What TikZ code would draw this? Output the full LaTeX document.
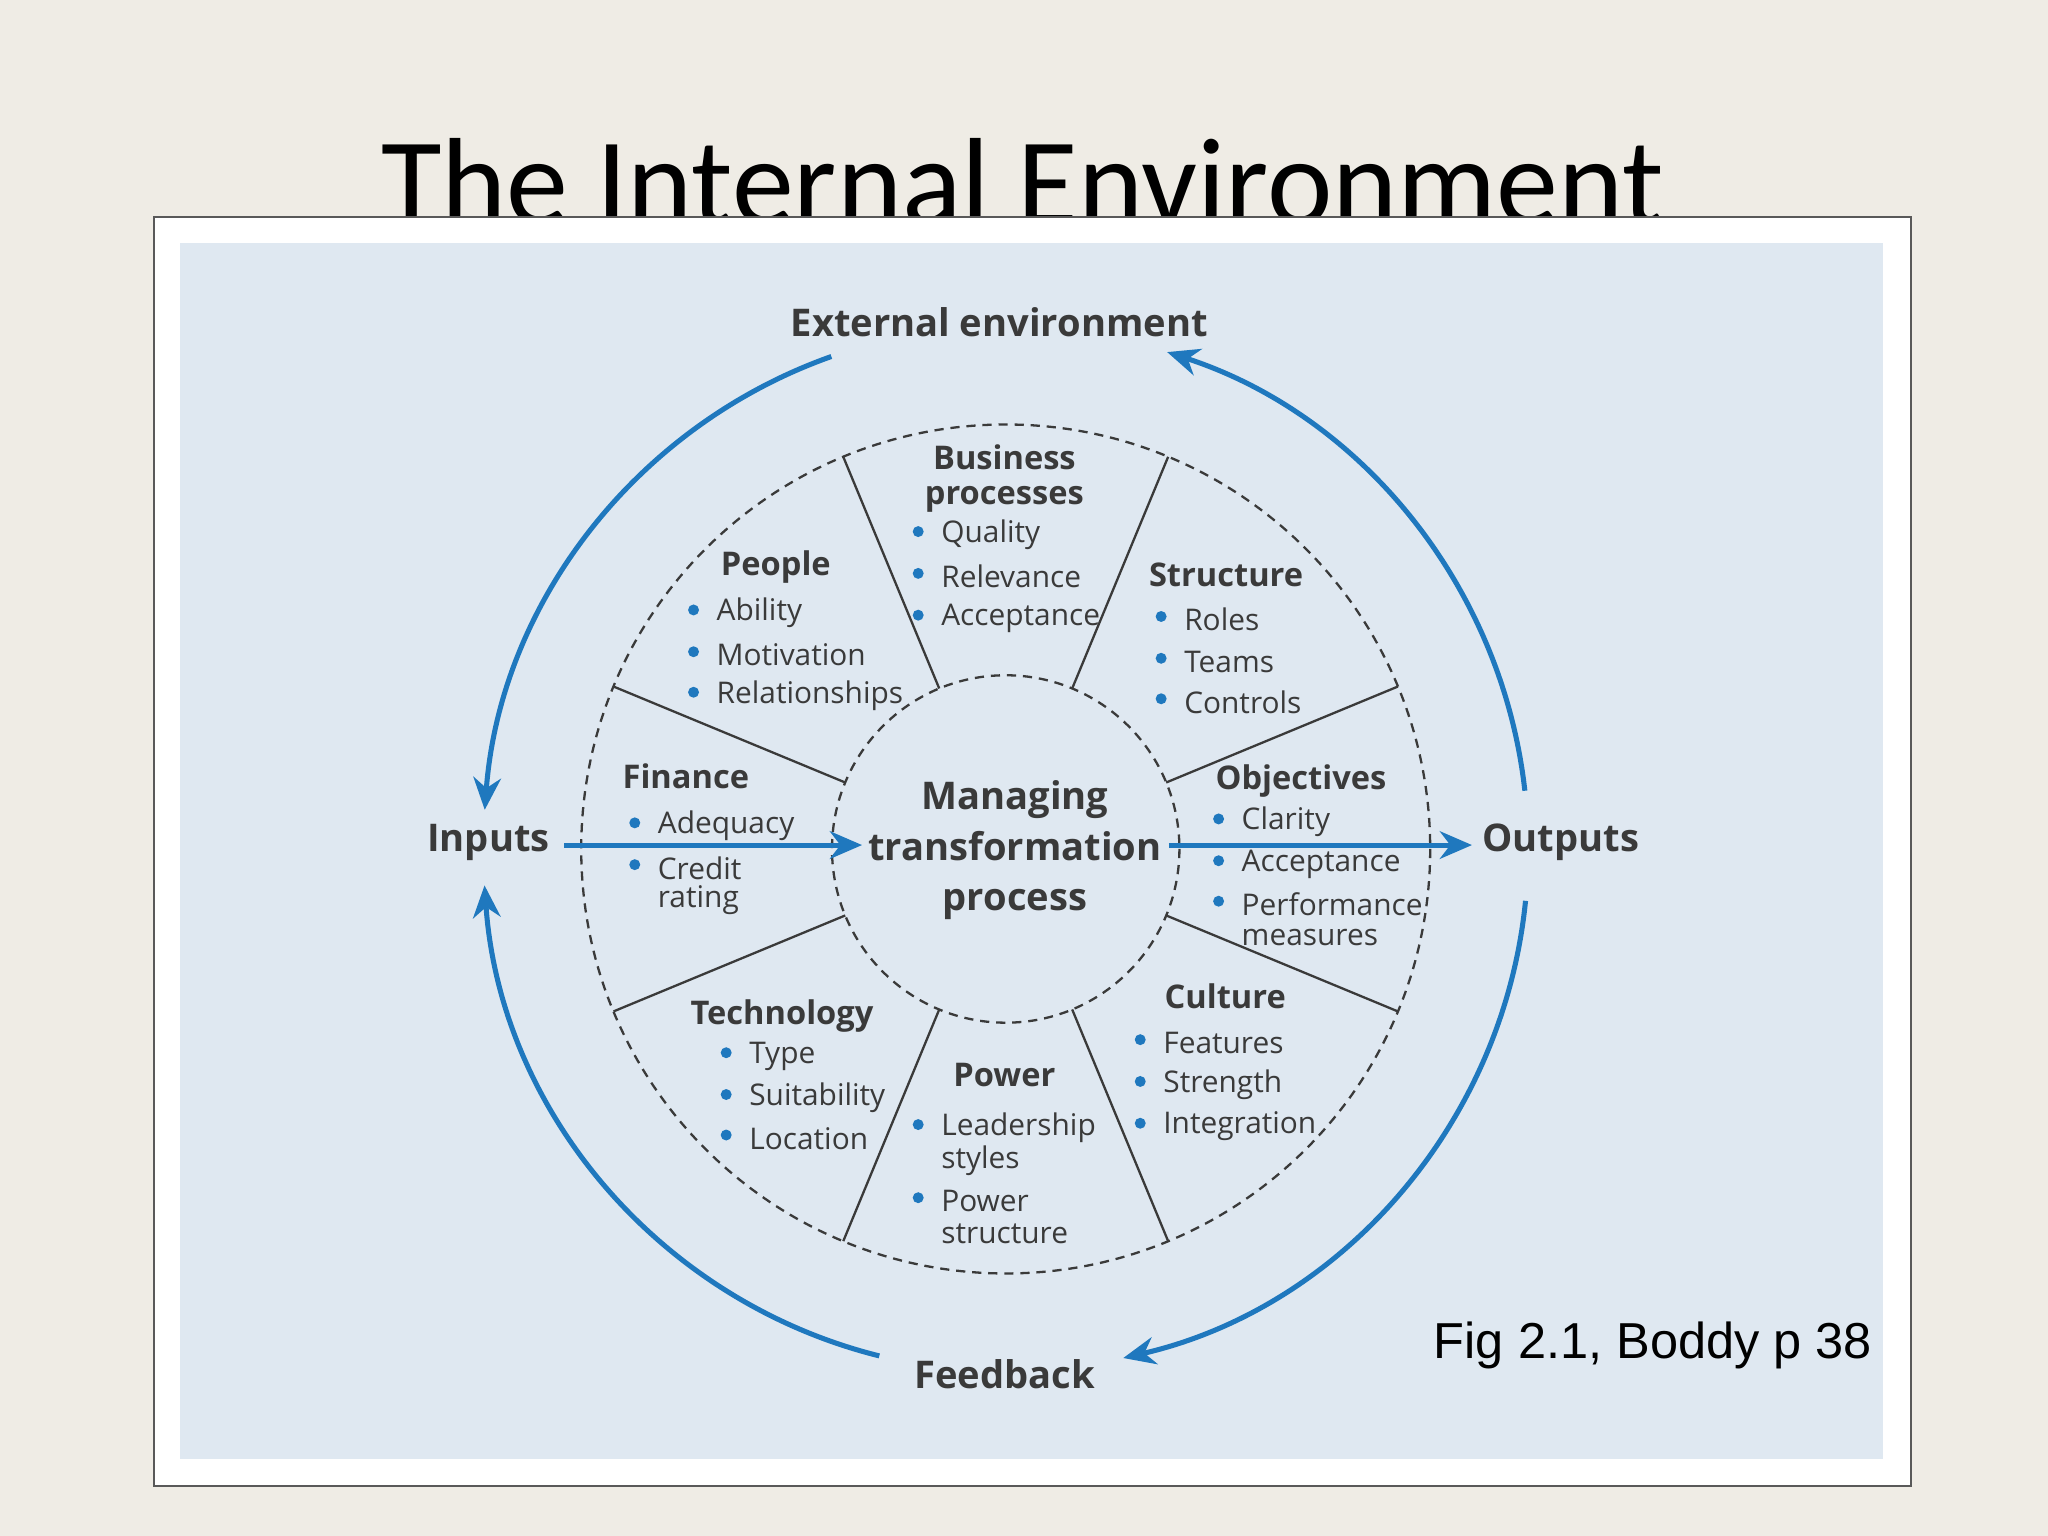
\documentclass[tikz,border=0pt]{standalone}
\usepackage{fontspec}
\setmainfont{Open Sans}
\newfontfamily\titlefont{Carlito}
\newfontfamily\capfont{Liberation Sans}
\usetikzlibrary{arrows.meta,calc}
\definecolor{bgpage}{HTML}{EFECE5}
\definecolor{panel}{HTML}{DFE8F1}
\definecolor{myblue}{HTML}{1F78BE}
\definecolor{txt}{HTML}{3A3A3A}
\tikzset{
  head/.style={font=\fontsize{7.1}{8}\selectfont\bfseries, text=txt, inner sep=0pt},
  itemtxt/.style={font=\fontsize{6.5}{7}\selectfont, text=txt, inner sep=0pt, anchor=west, yshift=-0.7pt},
  big/.style={font=\fontsize{8.3}{9}\selectfont\bfseries, text=txt, inner sep=0pt},
  flow/.style={myblue, line width=1.1pt, -{Stealth[length=7pt,width=6pt]}},
  spoke/.style={txt, line width=0.5pt},
  dashc/.style={txt, line width=0.5pt, dash pattern=on 2pt off 1.5pt},
}
\newcommand{\bul}[3]{\fill[myblue] (#1,#2) circle (4.2);\node[itemtxt] at (#1+17,#2) {#3};}
\newcommand{\cont}[3]{\node[itemtxt] at (#1+17,#2) {#3};}
\begin{document}
\begin{tikzpicture}[x=0.01cm,y=-0.01cm]
\fill[bgpage] (0,0) rectangle (1568,1176);
\node[font=\titlefont\fontsize{27}{30}\selectfont, inner sep=0pt, anchor=base] (title) at (783,172) {The Internal Environment};
\fill[white] (118,166) rectangle (1463,1138);
\draw[gray!70!black, line width=0.4pt] (118,166) rectangle (1463,1138);
\fill[panel] (138,186) rectangle (1442,1117);
\coordinate (c) at (770,650);
% circles
\draw[dashc] (c) circle (325);
\draw[dashc] (c) circle (133);
\foreach \a in {22.5,67.5,112.5,157.5,-22.5,-67.5,-112.5,-157.5}
  \draw[spoke] ($(c)+(\a:133)$) -- ($(c)+(\a:325)$);
% outer arcs (angles mirrored since y points down)
\draw[flow] (c) ++(-109.5:400) arc[start angle=-109.5, end angle=-175.7, radius=400];
\draw[flow] (c) ++(-6.4:400) arc[start angle=-6.4, end angle=-72, radius=400];
\draw[flow] (c) ++(5.7:400) arc[start angle=5.7, end angle=77, radius=400];
\draw[flow] (c) ++(104:400) arc[start angle=104, end angle=176, radius=400];
% labels
\node[big] (ext) at (765,247) {External environment};
\node[big] (in) at (374,645) {Inputs};
\node[big] (out) at (1195,645) {Outputs};
\node[big] (fb) at (769,1052) {Feedback};
\node[font=\fontsize{8.3}{12}\selectfont\bfseries, text=txt, align=center, inner sep=0pt] (mid) at (777,651) {Managing\\[-1pt]transformation\\[-1pt]process};
\coordinate (inA) at (432,647); \coordinate (inB) at (660,647);
\coordinate (outA) at (895,647); \coordinate (outB) at (1127,647);
\draw[flow] (inA) -- (inB);
\draw[flow] (outA) -- (outB);
% sectors
\node[head] (bp1) at (769,350) {Business};
\node[head] (bp2) at (769,382) {processes};
\bul{703}{407}{Quality}\bul{703}{439}{Relevance}\bul{703}{471}{Acceptance}
\node[head] (pe) at (594,434) {People};
\bul{531}{467}{Ability}\bul{531}{499}{Motivation}\bul{531}{530}{Relationships}
\node[head, anchor=west] (st) at (879,440) {Structure};
\bul{889}{472}{Roles}\bul{889}{504}{Teams}\bul{889}{535}{Controls}
\node[head, anchor=west] (fi) at (476,594) {Finance};
\bul{486}{630}{Adequacy}\bul{486}{662}{Credit}\cont{486}{687}{rating}
\node[head, anchor=west] (ob) at (930,598) {Objectives};
\bul{933}{627}{Clarity}\bul{933}{659}{Acceptance}\bul{933}{690}{Performance}\cont{933}{715}{measures}
\node[head, anchor=west] (cu) at (891,763) {Culture};
\bul{873}{796}{Features}\bul{873}{828}{Strength}\bul{873}{860}{Integration}
\node[head] (po) at (769,823) {Power};
\bul{703}{861}{Leadership}\cont{703}{886}{styles}\bul{703}{917}{Power}\cont{703}{942}{structure}
\node[head, anchor=west] (te) at (528,778) {Technology};
\bul{556}{806}{Type}\bul{556}{838}{Suitability}\bul{556}{869}{Location}
\node[font=\capfont\fontsize{11}{12}\selectfont, anchor=east, inner sep=0pt] (fig) at (1434,1030) {Fig 2.1, Boddy p 38};
\end{tikzpicture}
\end{document}
